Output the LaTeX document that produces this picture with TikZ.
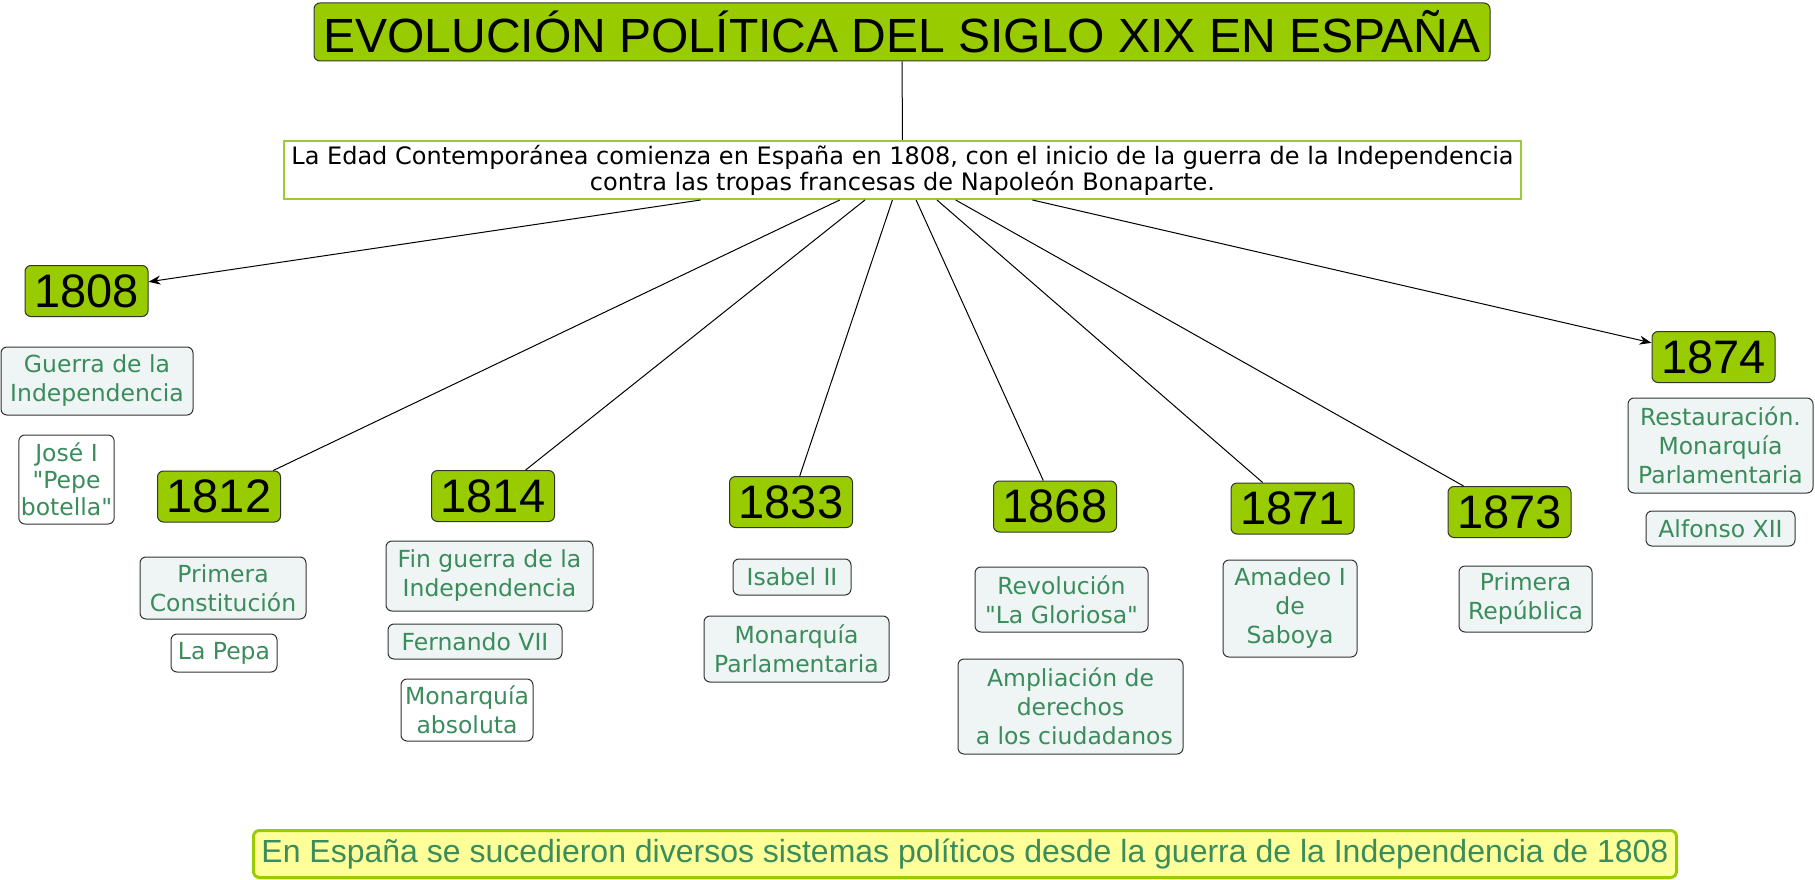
\documentclass[tikz,border=0pt]{standalone}
\usepackage{fontspec}
\newfontfamily\arialfont{Liberation Sans}
\newfontfamily\verdanafont{DejaVu Sans}
\usepackage{tikz}
\usetikzlibrary{arrows.meta}
\definecolor{yeargreen}{HTML}{99CC00}
\definecolor{textgreen}{HTML}{3A8C5C}
\definecolor{boxfill}{HTML}{EEF5F4}
\definecolor{introline}{HTML}{99CC33}
\definecolor{footfill}{HTML}{FFFF99}

\begin{document}
\begin{tikzpicture}[x=1pt, y=-1pt, >={Stealth[length=12pt,width=9pt]}, line width=1pt,
		year/.style={draw=black!80, fill=yeargreen, rounded corners=6pt, minimum width=123pt, minimum height=51pt, inner sep=0pt, font=\arialfont\fontsize{47}{47}\selectfont},
		idea/.style={draw=black!80, fill=boxfill, rounded corners=6pt, inner sep=2pt, align=center, text=textgreen, font=\verdanafont\fontsize{23.5}{29}\selectfont},
		ideawhite/.style={idea, fill=white},
		wh/.style 2 args={minimum width=#1, minimum height=#2}]
		\useasboundingbox (0,0) rectangle (1815,880);
		% title and intro
		\node[draw=black!80, fill=yeargreen, rounded corners=6pt, wh={1176pt}{58pt}, inner sep=0pt, font=\arialfont\fontsize{48}{48}\selectfont] (TIT) at (902,32) {EVOLUCIÓN POLÍTICA DEL SIGLO XIX EN ESPAÑA};
		\node[draw=introline, line width=2pt, fill=white, wh={1237pt}{58pt}, inner sep=0pt, align=center, font=\verdanafont\fontsize{24}{26}\selectfont] (INTRO) at (902.5,170) {La Edad Contemporánea comienza en España en 1808, con el inicio de la guerra de la Independencia\\contra las tropas francesas de Napoleón Bonaparte.};
		% years
		\node[year]         (Y1808) at (86.5,291)    {1808};
		\node[year]         (Y1812) at (219,496.5)   {1812};
		\node[year]         (Y1814) at (493,496)     {1814};
		\node[year]         (Y1833) at (791,502)     {1833};
		\node[year]         (Y1868) at (1055,506.5)  {1868};
		\node[year]         (Y1871) at (1292.5,508.5) {1871};
		\node[year]         (Y1873) at (1509.5,512)  {1873};
		\node[year]         (Y1874) at (1713.5,357)  {1874};
		% ideas
		\node[idea, wh={192pt}{68pt}]       (GUE) at (97,381)      {Guerra de la\\Independencia};
		\node[ideawhite, wh={95pt}{89pt}, font=\verdanafont\fontsize{23.5}{27}\selectfont] (JOSE) at (66.5,479.5) {José I\\"Pepe\\botella"};
		\node[idea, wh={166pt}{62pt}]       (CONS) at (223,588)    {Primera\\Constitución};
		\node[ideawhite, wh={106pt}{38pt}]  (PEPA) at (224,653)    {La Pepa};
		\node[idea, wh={207pt}{70pt}]       (FIN) at (489.5,576)   {Fin guerra de la\\Independencia};
		\node[idea, wh={174pt}{35pt}]       (FER) at (475,641.5)   {Fernando VII};
		\node[ideawhite, wh={132pt}{62pt}]  (ABS) at (467,710)     {Monarquía\\absoluta};
		\node[idea, wh={118pt}{36pt}]       (ISA) at (792,577)     {Isabel II};
		\node[idea, wh={185pt}{66pt}]       (PARL) at (796.5,649)  {Monarquía\\Parlamentaria};
		\node[idea, wh={173pt}{65pt}]       (REV) at (1061.5,599.5) {Revolución\\"La Gloriosa"};
		\node[idea, wh={225pt}{95pt}]       (AMP) at (1070.5,706.5) {Ampliación de\\derechos\\\ a los ciudadanos};
		\node[idea, wh={134pt}{97pt}]       (AMA) at (1290,608.5)  {Amadeo I\\de\\Saboya};
		\node[idea, wh={133pt}{66pt}]       (REP) at (1525.5,599)  {Primera\\República};
		\node[idea, wh={185pt}{95pt}]       (RES) at (1720.5,445.5) {Restauración.\\Monarquía\\Parlamentaria};
		\node[idea, wh={149pt}{35pt}]       (ALF) at (1720.5,528.5) {Alfonso XII};
		% footer
		\node[draw=yeargreen, line width=3pt, fill=footfill, rounded corners=6pt, wh={1423pt}{47pt}, inner sep=0pt, text=textgreen, font=\arialfont\fontsize{32}{32}\selectfont] (FOOT) at (965,854) {En España se sucedieron diversos sistemas políticos desde la guerra de la Independencia de 1808};

		\path	(TIT)	edge	(INTRO)
				(INTRO)	edge[->]	(Y1808)
				(INTRO)	edge	(Y1812)
				(INTRO)	edge	(Y1814)
				(INTRO)	edge	(Y1833)
				(INTRO)	edge	(Y1868)
				(INTRO)	edge	(Y1871)
				(INTRO)	edge	(Y1873)
				(INTRO)	edge[->]	(Y1874);
\end{tikzpicture}
\end{document}
